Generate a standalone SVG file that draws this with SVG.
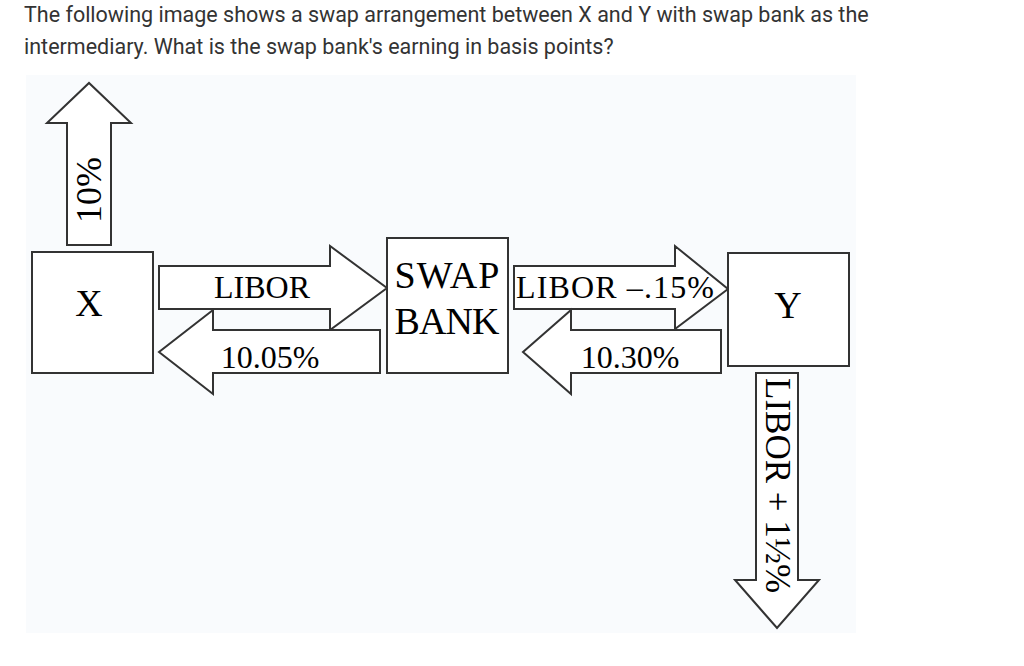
<svg xmlns="http://www.w3.org/2000/svg" width="1024" height="666" viewBox="0 0 1024 666">
<style>
.q{font-family:Roboto,"Liberation Sans",sans-serif;font-size:21.5px;fill:#333}
.s{fill:#fff;stroke:#333;stroke-width:2}
.t{font-family:"Liberation Serif",serif;fill:#000;font-size:32px}
.b{font-size:38px}
</style>
<rect width="1024" height="666" fill="#fff"/>
<text class="q" x="24" y="22">The following image shows a swap arrangement between X and Y with swap bank as the</text>
<text class="q" x="24" y="54">intermediary. What is the swap bank's earning in basis points?</text>
<rect x="26" y="75" width="830" height="558" fill="#f9fbfd"/>
<g id="connectors">
<polygon class="s" points="67,245 67,123 47,123 89,83 131,123 111,123 111,245"/>
<polygon class="s" points="159,266 330,266 330,246 387,288 330,330 330,309 159,309"/>
<polygon class="s" points="380,330 380,373 213,373 213,394 159,352 213,310 213,330"/>
<polygon class="s" points="514,266 675,266 675,246 728,289 675,329 675,309 514,309"/>
<polygon class="s" points="721,330 721,373 571,373 571,394 523,352 571,310 571,330"/>
<polygon class="s" points="756,373 798,373 798,580 819,580 777,628 735,580 756,580"/>
<text class="t" transform="translate(101,190) rotate(-90)" text-anchor="middle" font-size="36" style="font-size:36px">10%</text>
<text class="t" x="262" y="298" text-anchor="middle">LIBOR</text>
<text class="t" x="270" y="368" text-anchor="middle">10.05%</text>
<text class="t" x="516" y="298" textLength="198">LIBOR –.15%</text>
<text class="t" x="630" y="368" text-anchor="middle">10.30%</text>
<text class="t" transform="translate(766,378) rotate(90)" style="font-size:35px">LIBOR + 1½%</text>
</g>
<g id="X"><rect class="s" x="32" y="252" width="121" height="121"/><text class="t b" x="89" y="316" text-anchor="middle">X</text></g>
<g id="SWAP"><rect class="s" x="387" y="238" width="121" height="135"/><text class="t b" x="447" y="288" text-anchor="middle" textLength="105">SWAP</text><text class="t b" x="447" y="334" text-anchor="middle" textLength="105">BANK</text></g>
<g id="Y"><rect class="s" x="728" y="253" width="121" height="113"/><text class="t b" x="788" y="318" text-anchor="middle">Y</text></g>
</svg>
